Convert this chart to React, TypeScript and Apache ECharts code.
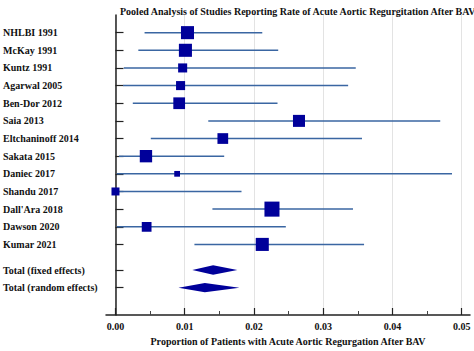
import React, { useEffect, useRef } from "react";
import * as echarts from "echarts";

const studies = [
  "NHLBI 1991", "McKay 1991", "Kuntz 1991", "Agarwal 2005", "Ben-Dor 2012", "Saia 2013",
  "Eltchaninoff 2014", "Sakata 2015", "Daniec 2017", "Shandu 2017", "Dall'Ara 2018",
  "Dawson 2020", "Kumar 2021",
];
const estimates = [0.0104, 0.0101, 0.0097, 0.0094, 0.0092, 0.0265, 0.0155, 0.0044, 0.0089, 0.0, 0.0226, 0.0045, 0.0212];
const lower = [0.0042, 0.0033, 0.0012, 0.0011, 0.0025, 0.0134, 0.0051, 0.0005, 0.0002, 0.0, 0.0140, 0.0002, 0.0114];
const upper = [0.0212, 0.0235, 0.0347, 0.0336, 0.0234, 0.0469, 0.0356, 0.0157, 0.0486, 0.0182, 0.0343, 0.0246, 0.0359];
const weights = [10.4, 10.4, 5.0, 5.0, 8.4, 8.8, 7.0, 9.3, 2.0, 3.9, 13.8, 5.8, 10.4];

const pooledLabels = ["Total (fixed effects)", "Total (random effects)"];
const pooledEst = [0.0141, 0.0129];
const pooledLow = [0.0111, 0.0091];
const pooledHigh = [0.0176, 0.0179];

const xTicks = [0, 0.01, 0.02, 0.03, 0.04, 0.05];

const title = "Pooled Analysis of Studies Reporting Rate of Acute Aortic Regurgitation After BAV";
const xName = "Proportion of Patients with Acute Aortic Regurgation After BAV";

const FONT = "'Liberation Serif', 'Times New Roman', serif";

export default function App() {
  const ref = useRef<HTMLDivElement>(null);
  useEffect(() => {
    if (!ref.current) return;
    const chart = echarts.init(ref.current, null, { renderer: "svg" });

    const studyRows = studies.map((_, i) => i + 1);
    const pooledRows = [14.45, 15.45];
    const rowLabels: Record<string, string> = {};
    studies.forEach((s, i) => (rowLabels[studyRows[i].toFixed(2)] = s));
    pooledLabels.forEach((s, i) => (rowLabels[pooledRows[i].toFixed(2)] = s));
    const yPositions = [...studyRows, ...pooledRows];

    const studyData = studies.map((_, i) => [estimates[i], lower[i], upper[i], studyRows[i], weights[i]]);
    const pooledData = pooledLabels.map((_, i) => [pooledEst[i], pooledLow[i], pooledHigh[i], pooledRows[i]]);

    chart.setOption({
      animation: false,
      title: {
        text: title,
        left: 115,
        top: 1,
        textStyle: { fontFamily: FONT, fontWeight: "bold", fontSize: 10, color: "#111" },
      },
      grid: { left: 106, right: 4, top: 15, bottom: 30, containLabel: false },
      xAxis: {
        type: "value",
        min: -0.00137,
        max: 0.0512,
        name: xName,
        nameLocation: "middle",
        nameGap: 21,
        nameTextStyle: { fontFamily: FONT, fontWeight: "bold", fontSize: 10, color: "#111" },
        axisLine: { onZero: false, lineStyle: { color: "#222", width: 1.5 } },
        axisTick: { inside: true, length: 7, customValues: xTicks, lineStyle: { color: "#222", width: 1.2 } },
        minorTick: { show: true, splitNumber: 2, length: 4, lineStyle: { color: "#444", width: 1 } },
        axisLabel: {
          customValues: xTicks,
          margin: 6,
          fontFamily: FONT,
          fontWeight: "bold",
          fontSize: 10,
          color: "#111",
          formatter: (v: number) => v.toFixed(2),
        },
        splitLine: { show: true, lineStyle: { color: "#e3e3e3", width: 1 } },
      },
      yAxis: {
        type: "value",
        inverse: true,
        min: 0,
        max: 17,
        axisLine: { show: true, lineStyle: { color: "#222", width: 1.5 } },
        axisTick: { show: true, inside: true, length: 8, customValues: yPositions, lineStyle: { color: "#222", width: 1.2 } },
        axisLabel: {
          customValues: yPositions,
          align: "left",
          margin: 103,
          fontFamily: FONT,
          fontWeight: "bold",
          fontSize: 10,
          color: "#111",
          formatter: (v: number) => rowLabels[Number(v).toFixed(2)] || "",
        },
        splitLine: { show: false },
      },
      series: [
        {
          type: "custom",
          coordinateSystem: "cartesian2d",
          encode: { x: [0, 1, 2], y: 3 },
          data: studyData,
          renderItem: (params: any, api: any) => {
            const y = api.value(3);
            const c = api.coord([api.value(0), y]);
            const l = api.coord([api.value(1), y]);
            const h = api.coord([api.value(2), y]);
            const s = Math.sqrt(api.value(4)) * 4.05;
            return {
              type: "group",
              children: [
                {
                  type: "line",
                  shape: { x1: l[0], y1: l[1], x2: h[0], y2: h[1] },
                  style: { stroke: "#3a66a2", lineWidth: 1.5 },
                },
                {
                  type: "rect",
                  shape: { x: c[0] - s / 2, y: c[1] - s / 2, width: s, height: s },
                  style: { fill: "#00009a" },
                },
              ],
            };
          },
        },
        {
          type: "custom",
          coordinateSystem: "cartesian2d",
          encode: { x: [0, 1, 2], y: 3 },
          data: pooledData,
          renderItem: (params: any, api: any) => {
            const y = api.value(3);
            const c = api.coord([api.value(0), y]);
            const l = api.coord([api.value(1), y]);
            const h = api.coord([api.value(2), y]);
            const hh = 4.7;
            return {
              type: "polygon",
              shape: {
                points: [
                  [l[0], l[1]],
                  [c[0], c[1] - hh],
                  [h[0], h[1]],
                  [c[0], c[1] + hh],
                ],
              },
              style: { fill: "#00009a" },
            };
          },
        },
      ],
    });
    return () => chart.dispose();
  }, []);
  return (
    <div
      ref={ref}
      style={{ position: "absolute", left: 0, top: 0, width: 474, height: 351, background: "#fff" }}
    />
  );
}
